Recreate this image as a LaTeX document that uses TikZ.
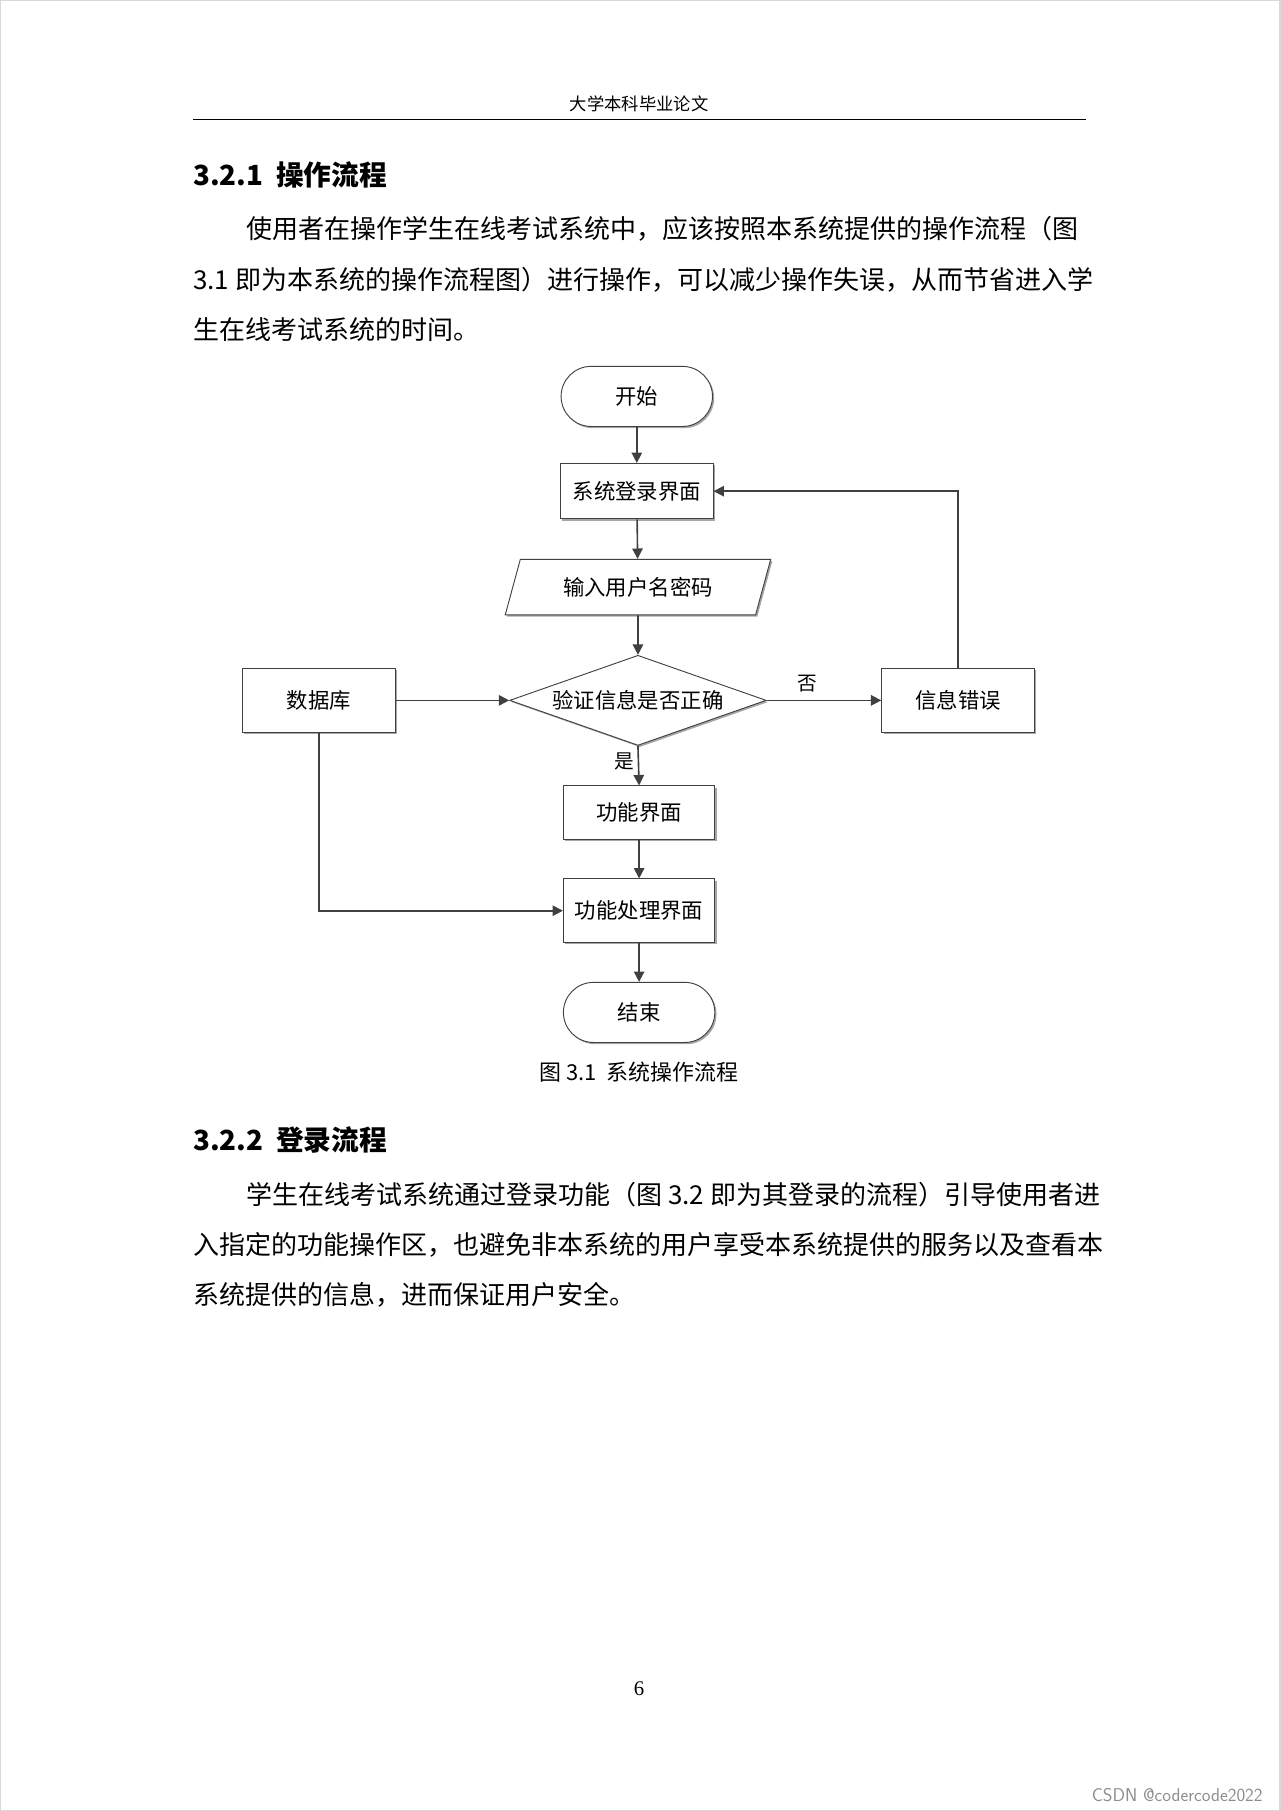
\documentclass[tikz,border=0pt]{standalone}
\usepackage{fontspec}
\setmainfont{Liberation Serif}
\newfontfamily\cjk{Noto Sans CJK SC}
\usetikzlibrary{shapes.geometric,arrows.meta,shadows}
\begin{document}
\begin{tikzpicture}[x=1pt,y=-1pt,
  body/.style={anchor=west,inner sep=0pt,font=\cjk\fontsize{22.5}{24}\selectfont},
  head/.style={anchor=west,inner sep=0pt,font=\cjk\bfseries\fontsize{24}{26}\selectfont},
  fc/.style={draw=black!75,fill=white,line width=0.8pt,font=\cjk\fontsize{18.5}{20}\selectfont,
    drop shadow={shadow xshift=1.5pt,shadow yshift=-1.5pt,fill=black!35,opacity=1}},
  box/.style={fc,rectangle,minimum width=132pt},
  term/.style={fc,rectangle,rounded corners=26pt,minimum width=131pt,minimum height=52pt},
  arr/.style={draw=black!75,line width=1.4pt,-{Triangle[length=9pt,width=9pt]}}]
\useasboundingbox (0,0) rectangle (1108,1567);
\draw[black!15,line width=1pt] (0.5,0.5) rectangle (1107.5,1566.5);
% header
\node[font=\cjk\fontsize{15}{16}\selectfont] (hdr) at (553,90) {大学本科毕业论文};
\draw[line width=0.8pt] (167,103) -- (940,103);
\node[head] (h1) at (167,151) {3.2.1\ \ 操作流程};
\node[body] (p1) at (213,198) {使用者在操作学生在线考试系统中，应该按照本系统提供的操作流程（图};
\node[body] (p2) at (167,242) {3.1 即为本系统的操作流程图）进行操作，可以减少操作失误，从而节省进入学};
\node[body] (p3) at (167,285) {生在线考试系统的时间。};
% flowchart
\node[term] (start) at (551,343) {开始};
\node[box,minimum height=48pt] (login) at (551,425) {系统登录界面};
\node[fc,trapezium,trapezium left angle=70,trapezium right angle=110,minimum width=230pt,minimum height=48pt,trapezium stretches=true] (input) at (552,508) {输入用户名密码};
\node[fc,diamond,aspect=2.85,minimum width=222pt,minimum height=78pt,inner sep=0pt] (check) at (552,606) {验证信息是否正确};
\node[box,minimum height=55pt] (db) at (276,606) {数据库};
\node[box,minimum height=55pt] (err) at (829,606) {信息错误};
\node[box,minimum width=131pt,minimum height=46pt] (func) at (553,703) {功能界面};
\node[box,minimum width=131pt,minimum height=55pt] (proc) at (553,788) {功能处理界面};
\node[term] (end) at (553,876) {结束};
\draw[arr] (start) -- (login);
\draw[arr] (login) -- (input);
\draw[arr] (input) -- (check);
\draw[arr] (db) -- (check);
\draw[arr] (check) -- node[above,pos=0.35,font=\cjk\fontsize{17}{18}\selectfont,yshift=3pt] (no) {否} (err);
\draw[arr] (check.south) -- node[left,pos=0.4,font=\cjk\fontsize{17}{18}\selectfont] (yes) {是} (func.north);
\draw[arr] (func) -- (proc);
\draw[arr] (proc) -- (end);
\draw[arr] (err.north) |- (login.east);
\draw[arr] (db.south) |- (proc.west);
\node[font=\cjk\fontsize{19}{20}\selectfont] (cap) at (553,928) {图 3.1\ \ 系统操作流程};
% section 2
\node[head] (h2) at (167,986) {3.2.2\ \ 登录流程};
\node[body] (q1) at (213,1034) {学生在线考试系统通过登录功能（图 3.2 即为其登录的流程）引导使用者进};
\node[body] (q2) at (167,1077) {入指定的功能操作区，也避免非本系统的用户享受本系统提供的服务以及查看本};
\node[body] (q3) at (167,1120) {系统提供的信息，进而保证用户安全。};
\node[font=\fontsize{18}{20}\selectfont] (pg) at (553,1461) {6};
\node[anchor=east,text=black!45,font=\fontfamily{lmss}\fontsize{16}{18}\selectfont] (wm) at (1096,1553) {CSDN @codercode2022};
\end{tikzpicture}
\end{document}
